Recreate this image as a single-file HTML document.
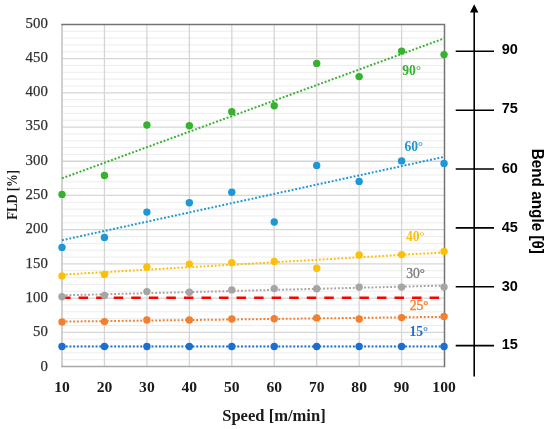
<!DOCTYPE html><html><head><meta charset="utf-8"><style>html,body{margin:0;padding:0;background:#fff;}svg{display:block;}</style></head><body>
<svg width="550" height="429" viewBox="0 0 550 429">
<rect width="550" height="429" fill="#fff"/>
<path d="M62 359.66H444.5 M62 352.82H444.5 M62 345.97H444.5 M62 339.13H444.5 M62 325.45H444.5 M62 318.61H444.5 M62 311.76H444.5 M62 304.92H444.5 M62 291.24H444.5 M62 284.40H444.5 M62 277.55H444.5 M62 270.71H444.5 M62 257.03H444.5 M62 250.19H444.5 M62 243.34H444.5 M62 236.50H444.5 M62 222.82H444.5 M62 215.98H444.5 M62 209.13H444.5 M62 202.29H444.5 M62 188.61H444.5 M62 181.77H444.5 M62 174.92H444.5 M62 168.08H444.5 M62 154.40H444.5 M62 147.56H444.5 M62 140.71H444.5 M62 133.87H444.5 M62 120.19H444.5 M62 113.35H444.5 M62 106.50H444.5 M62 99.66H444.5 M62 85.98H444.5 M62 79.14H444.5 M62 72.29H444.5 M62 65.45H444.5 M62 51.77H444.5 M62 44.93H444.5 M62 38.08H444.5 M62 31.24H444.5" stroke="#ececec" stroke-width="1" fill="none"/>
<path d="M62 332.29H444.5 M62 298.08H444.5 M62 263.87H444.5 M62 229.66H444.5 M62 195.45H444.5 M62 161.24H444.5 M62 127.03H444.5 M62 92.82H444.5 M62 58.61H444.5 M104.45 24.4V366.5 M146.90 24.4V366.5 M189.35 24.4V366.5 M231.80 24.4V366.5 M274.25 24.4V366.5 M316.70 24.4V366.5 M359.15 24.4V366.5 M401.60 24.4V366.5" stroke="#d6d6d6" stroke-width="1.3" fill="none"/>
<path d="M62 24.4V366.5" stroke="#c6c6c6" stroke-width="1.6" fill="none"/>
<path d="M61.2 366.5H444.5" stroke="#a8a8a8" stroke-width="1.4" fill="none"/>
<path d="M61.2 24.4H444.5V367.2" stroke="#747474" stroke-width="1.5" fill="none"/>
<path d="M61.05 297.8H439.1" stroke="#ff0000" stroke-width="2.6" stroke-dasharray="9.5 8.05" fill="none"/>
<path d="M62 178.29L444.5 38.28" stroke="#35b22e" stroke-width="2" stroke-dasharray="1.9 1.83" fill="none"/>
<path d="M62 240.20L444.5 156.76" stroke="#1e97d6" stroke-width="2" stroke-dasharray="1.9 1.83" fill="none"/>
<path d="M62 274.63L444.5 252.36" stroke="#fdc00a" stroke-width="2" stroke-dasharray="1.9 1.83" fill="none"/>
<path d="M62 295.35L444.5 285.56" stroke="#a5a5a5" stroke-width="2" stroke-dasharray="1.9 1.83" fill="none"/>
<path d="M62 321.63L444.5 316.81" stroke="#f47f2c" stroke-width="2" stroke-dasharray="1.9 1.83" fill="none"/>
<path d="M62 346.50L444.5 346.50" stroke="#1b6fd3" stroke-width="2" stroke-dasharray="1.9 1.83" fill="none"/>
<circle cx="62.00" cy="194.40" r="3.7" fill="#35b22e"/>
<circle cx="104.45" cy="175.50" r="3.7" fill="#35b22e"/>
<circle cx="146.90" cy="125.00" r="3.7" fill="#35b22e"/>
<circle cx="189.35" cy="125.70" r="3.7" fill="#35b22e"/>
<circle cx="231.80" cy="111.70" r="3.7" fill="#35b22e"/>
<circle cx="274.25" cy="105.70" r="3.7" fill="#35b22e"/>
<circle cx="316.70" cy="63.40" r="3.7" fill="#35b22e"/>
<circle cx="359.15" cy="76.60" r="3.7" fill="#35b22e"/>
<circle cx="401.60" cy="51.10" r="3.7" fill="#35b22e"/>
<circle cx="444.05" cy="54.60" r="3.7" fill="#35b22e"/>
<circle cx="62.00" cy="247.40" r="3.7" fill="#1e97d6"/>
<circle cx="104.45" cy="237.50" r="3.7" fill="#1e97d6"/>
<circle cx="146.90" cy="212.10" r="3.7" fill="#1e97d6"/>
<circle cx="189.35" cy="202.80" r="3.7" fill="#1e97d6"/>
<circle cx="231.80" cy="192.30" r="3.7" fill="#1e97d6"/>
<circle cx="274.25" cy="222.00" r="3.7" fill="#1e97d6"/>
<circle cx="316.70" cy="165.50" r="3.7" fill="#1e97d6"/>
<circle cx="359.15" cy="181.40" r="3.7" fill="#1e97d6"/>
<circle cx="401.60" cy="160.90" r="3.7" fill="#1e97d6"/>
<circle cx="444.05" cy="163.40" r="3.7" fill="#1e97d6"/>
<circle cx="62.00" cy="275.90" r="3.7" fill="#fdc00a"/>
<circle cx="104.45" cy="274.50" r="3.7" fill="#fdc00a"/>
<circle cx="146.90" cy="267.00" r="3.7" fill="#fdc00a"/>
<circle cx="189.35" cy="264.10" r="3.7" fill="#fdc00a"/>
<circle cx="231.80" cy="262.80" r="3.7" fill="#fdc00a"/>
<circle cx="274.25" cy="261.50" r="3.7" fill="#fdc00a"/>
<circle cx="316.70" cy="268.20" r="3.7" fill="#fdc00a"/>
<circle cx="359.15" cy="255.00" r="3.7" fill="#fdc00a"/>
<circle cx="401.60" cy="254.60" r="3.7" fill="#fdc00a"/>
<circle cx="444.05" cy="251.50" r="3.7" fill="#fdc00a"/>
<circle cx="62.00" cy="296.70" r="3.7" fill="#a5a5a5"/>
<circle cx="104.45" cy="295.50" r="3.7" fill="#a5a5a5"/>
<circle cx="146.90" cy="291.60" r="3.7" fill="#a5a5a5"/>
<circle cx="189.35" cy="292.20" r="3.7" fill="#a5a5a5"/>
<circle cx="231.80" cy="289.90" r="3.7" fill="#a5a5a5"/>
<circle cx="274.25" cy="288.60" r="3.7" fill="#a5a5a5"/>
<circle cx="316.70" cy="288.80" r="3.7" fill="#a5a5a5"/>
<circle cx="359.15" cy="287.10" r="3.7" fill="#a5a5a5"/>
<circle cx="401.60" cy="287.10" r="3.7" fill="#a5a5a5"/>
<circle cx="444.05" cy="287.10" r="3.7" fill="#a5a5a5"/>
<circle cx="62.00" cy="321.90" r="3.7" fill="#f47f2c"/>
<circle cx="104.45" cy="321.60" r="3.7" fill="#f47f2c"/>
<circle cx="146.90" cy="320.00" r="3.7" fill="#f47f2c"/>
<circle cx="189.35" cy="320.00" r="3.7" fill="#f47f2c"/>
<circle cx="231.80" cy="319.00" r="3.7" fill="#f47f2c"/>
<circle cx="274.25" cy="318.70" r="3.7" fill="#f47f2c"/>
<circle cx="316.70" cy="317.90" r="3.7" fill="#f47f2c"/>
<circle cx="359.15" cy="319.00" r="3.7" fill="#f47f2c"/>
<circle cx="401.60" cy="317.60" r="3.7" fill="#f47f2c"/>
<circle cx="444.05" cy="316.50" r="3.7" fill="#f47f2c"/>
<circle cx="62.00" cy="346.50" r="3.7" fill="#1b6fd3"/>
<circle cx="104.45" cy="346.50" r="3.7" fill="#1b6fd3"/>
<circle cx="146.90" cy="346.50" r="3.7" fill="#1b6fd3"/>
<circle cx="189.35" cy="346.50" r="3.7" fill="#1b6fd3"/>
<circle cx="231.80" cy="346.50" r="3.7" fill="#1b6fd3"/>
<circle cx="274.25" cy="346.50" r="3.7" fill="#1b6fd3"/>
<circle cx="316.70" cy="346.50" r="3.7" fill="#1b6fd3"/>
<circle cx="359.15" cy="346.50" r="3.7" fill="#1b6fd3"/>
<circle cx="401.60" cy="346.50" r="3.7" fill="#1b6fd3"/>
<circle cx="444.05" cy="346.50" r="3.7" fill="#1b6fd3"/>
<g font-family="Liberation Serif, serif" font-size="15.2" fill="#303030" stroke="#303030" stroke-width="0.25" text-anchor="end">
<text x="47.8" y="370.60" textLength="7.4" lengthAdjust="spacingAndGlyphs">0</text>
<text x="47.8" y="336.29" textLength="14.8" lengthAdjust="spacingAndGlyphs">50</text>
<text x="47.8" y="301.98" textLength="22.2" lengthAdjust="spacingAndGlyphs">100</text>
<text x="47.8" y="267.67" textLength="22.2" lengthAdjust="spacingAndGlyphs">150</text>
<text x="47.8" y="233.36" textLength="22.2" lengthAdjust="spacingAndGlyphs">200</text>
<text x="47.8" y="199.05" textLength="22.2" lengthAdjust="spacingAndGlyphs">250</text>
<text x="47.8" y="164.74" textLength="22.2" lengthAdjust="spacingAndGlyphs">300</text>
<text x="47.8" y="130.43" textLength="22.2" lengthAdjust="spacingAndGlyphs">350</text>
<text x="47.8" y="96.12" textLength="22.2" lengthAdjust="spacingAndGlyphs">400</text>
<text x="47.8" y="61.81" textLength="22.2" lengthAdjust="spacingAndGlyphs">450</text>
<text x="47.8" y="27.50" textLength="22.2" lengthAdjust="spacingAndGlyphs">500</text>
</g>
<g font-family="Liberation Serif, serif" font-size="15.6" font-weight="bold" fill="#1a1a1a" text-anchor="middle">
<text x="62.00" y="391.8">10</text>
<text x="104.45" y="391.8">20</text>
<text x="146.90" y="391.8">30</text>
<text x="189.35" y="391.8">40</text>
<text x="231.80" y="391.8">50</text>
<text x="274.25" y="391.8">60</text>
<text x="316.70" y="391.8">70</text>
<text x="359.15" y="391.8">80</text>
<text x="401.60" y="391.8">90</text>
<text x="444.05" y="391.8">100</text>
</g>
<text x="222.2" y="420.7" textLength="103.5" lengthAdjust="spacingAndGlyphs" font-family="Liberation Serif, serif" font-size="16.3" font-weight="bold" fill="#1a1a1a">Speed [m/min]</text>
<text transform="translate(16.5 219.8) rotate(-90)" textLength="49.8" lengthAdjust="spacingAndGlyphs" font-family="Liberation Serif, serif" font-size="14.8" font-weight="bold" fill="#1a1a1a">FLD [%]</text>
<text x="402.3" y="74.6" font-family="Liberation Serif, serif" font-size="13.6" font-weight="bold" fill="#35b22e">90<tspan font-size="12.6" dy="-0.9">°</tspan></text>
<text x="404.5" y="150.5" font-family="Liberation Serif, serif" font-size="13.6" font-weight="bold" fill="#1e97d6">60<tspan font-size="12.6" dy="-0.9">°</tspan></text>
<text x="406.0" y="241.0" font-family="Liberation Serif, serif" font-size="13.6" font-weight="bold" fill="#fdc00a">40<tspan font-size="12.6" dy="-0.9">°</tspan></text>
<text x="406.2" y="278.0" font-family="Liberation Serif, serif" font-size="13.6" font-weight="normal" fill="#7f7f7f" stroke="#7f7f7f" stroke-width="0.35">30<tspan font-size="12.6" dy="-0.9">°</tspan></text>
<text x="409.7" y="309.6" font-family="Liberation Serif, serif" font-size="13.6" font-weight="normal" fill="#f47f2c" stroke="#f47f2c" stroke-width="0.35">25<tspan font-size="12.6" dy="-0.9">°</tspan></text>
<text x="409.5" y="335.6" font-family="Liberation Serif, serif" font-size="13.6" font-weight="bold" fill="#1b6fd3">15<tspan font-size="12.6" dy="-0.9">°</tspan></text>
<path d="M474.2 11V376.5" stroke="#000" stroke-width="1.6" fill="none"/>
<path d="M474.2 4.3L478.4 12.5H470.0Z" fill="#000"/>
<path d="M455.7 51.3H494 M455.7 110.2H494 M455.7 169.0H494 M455.7 227.9H494 M455.7 286.7H494 M455.7 345.6H494" stroke="#000" stroke-width="1.6" fill="none"/>
<g font-family="Liberation Sans, Arial, sans-serif" font-size="14.5" font-weight="bold" fill="#000">
<text x="501.8" y="53.7">90</text>
<text x="501.8" y="112.8">75</text>
<text x="501.8" y="173.0">60</text>
<text x="501.8" y="231.8">45</text>
<text x="501.8" y="290.6">30</text>
<text x="501.8" y="349.2">15</text>
</g>
<text transform="translate(532.4 148.7) rotate(90)" textLength="105.2" lengthAdjust="spacingAndGlyphs" font-family="Liberation Sans, Arial, sans-serif" font-size="15.6" font-weight="bold" fill="#000">Bend angle [θ]</text>
</svg></body></html>
